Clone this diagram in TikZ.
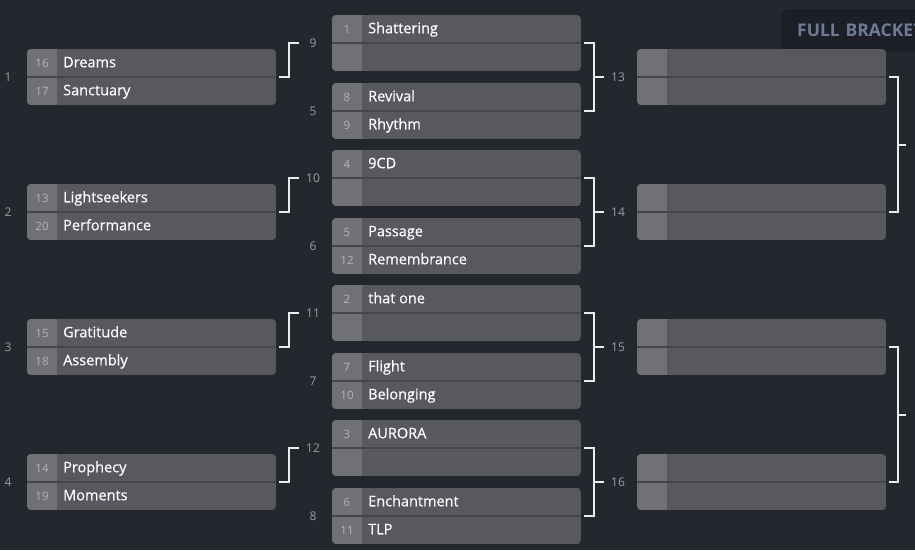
\documentclass[tikz,border=0pt]{standalone}
\usepackage{fontspec}
\setmainfont{Open Sans}
\newfontfamily\teamfont[FakeBold=0.35]{Open Sans}
\usetikzlibrary{positioning,calc}
\definecolor{bg}{HTML}{25272F}
\definecolor{slotgray}{HTML}{58595E}
\definecolor{seedgray}{HTML}{707176}
\definecolor{divgray}{HTML}{45464B}
\definecolor{seedtxt}{HTML}{B4B4B8}
\definecolor{numgray}{HTML}{9C9EA4}
\definecolor{linewhite}{HTML}{ECECEE}
\definecolor{tabbg}{HTML}{1D1F26}
\definecolor{tabtxt}{HTML}{6F7B94}
\tikzset{
  slot/.style={rectangle, fill=slotgray, minimum width=249pt, minimum height=28pt, inner sep=0pt, outer sep=0pt},
  seed/.style={text=seedtxt, font=\fontsize{11.5}{12}\selectfont, text height=8.5pt, text depth=0pt},
  team/.style={text=white, font=\teamfont\fontsize{14.5}{16}\selectfont, anchor=west, inner sep=0pt, text height=10.5pt, text depth=3pt},
  mnum/.style={text=numgray, font=\fontsize{12}{14}\selectfont},
  divider/.style={draw=divgray, line width=1.5pt},
  link/.style={draw=linewhite, line width=2pt},
  tab/.style={rectangle, fill=tabbg, rounded corners=4pt, anchor=north west, minimum width=160pt, minimum height=42pt, text width=140pt, align=left, text=tabtxt, font=\bfseries\fontsize{17.5}{19}\selectfont}
}
% one match box: name, top left, seed, team, seed, team
\newcommand{\bmatch}[6]{%
  \begin{scope}
    \clip[rounded corners=4pt] (#2) rectangle ++(249,56);
    \node[slot, anchor=north west] (#1a) at (#2) {};
    \node[slot, below=0pt of #1a] (#1b) {};
    \fill[seedgray] (#1a.north west) rectangle ([xshift=30pt]#1b.south west);
    \draw[divider] (#1a.south west) -- (#1a.south east);
  \end{scope}
  \node[seed] at ([xshift=15pt]#1a.west) {#3};
  \node[team] at ([xshift=36pt,yshift=-0.5pt]#1a.west) {#4};
  \node[seed] at ([xshift=15pt]#1b.west) {#5};
  \node[team] at ([xshift=36pt,yshift=-0.5pt]#1b.west) {#6};
}
\begin{document}
\begin{tikzpicture}[x=1pt, y=-1pt]
  \clip (0,0) rectangle (915,550);
  \fill[bg] (0,0) rectangle (915,550);
  %% tab
  \node[tab] (full) at (781,9) {\hspace*{6pt}FULL BRACKET};
  %% first round
  \bmatch{m1}{27,49}{16}{Dreams}{17}{Sanctuary}
  \bmatch{m2}{27,184}{13}{Lightseekers}{20}{Performance}
  \bmatch{m3}{27,319}{15}{Gratitude}{18}{Assembly}
  \bmatch{m4}{27,454}{14}{Prophecy}{19}{Moments}
  %% second round
  \bmatch{m9}{332,15}{1}{Shattering}{}{}
  \bmatch{m5}{332,83}{8}{Revival}{9}{Rhythm}
  \bmatch{m10}{332,150}{4}{9CD}{}{}
  \bmatch{m6}{332,218}{5}{Passage}{12}{Remembrance}
  \bmatch{m11}{332,285}{2}{that one}{}{}
  \bmatch{m7}{332,353}{7}{Flight}{10}{Belonging}
  \bmatch{m12}{332,420}{3}{AURORA}{}{}
  \bmatch{m8}{332,488}{6}{Enchantment}{11}{TLP}
  %% third round
  \bmatch{m13}{637,49}{}{}{}{}
  \bmatch{m14}{637,184}{}{}{}{}
  \bmatch{m15}{637,319}{}{}{}{}
  \bmatch{m16}{637,454}{}{}{}{}
  %% match numbers
  \foreach \m in {1,...,16}
    \node[mnum] (n\m) at ([xshift=-19pt]m\m a.south west) {\m};
  %% first round links
  \foreach \a/\b in {1/9,2/10,3/11,4/12}
    \draw[link] ([xshift=3pt]m\a a.south east) -- ++(10,0) |- ([xshift=-33pt]m\b a.south west);
  %% second round brackets
  \foreach \a/\b/\c in {9/5/13,10/6/14,11/7/15,12/8/16} {
    \draw[link] ([xshift=3pt]m\a a.south east) -| ([xshift=13pt]m\b a.south east) -- ([xshift=3pt]m\b a.south east);
    \draw[link] ([xshift=13pt]m\a a.south east |- m\c a.south west) -- ([xshift=-33pt]m\c a.south west);
  }
  %% third round brackets
  \foreach \a/\b/\c in {13/14/f1,15/16/f2} {
    \coordinate (\c) at ($(m\a a.south east)!0.5!(m\b a.south east)$);
    \draw[link] ([xshift=3pt]m\a a.south east) -| ([xshift=12pt]m\b a.south east) -- ([xshift=3pt]m\b a.south east);
    \draw[link] ([xshift=12pt]\c) -- ([xshift=20pt]\c);
  }
\end{tikzpicture}
\end{document}
